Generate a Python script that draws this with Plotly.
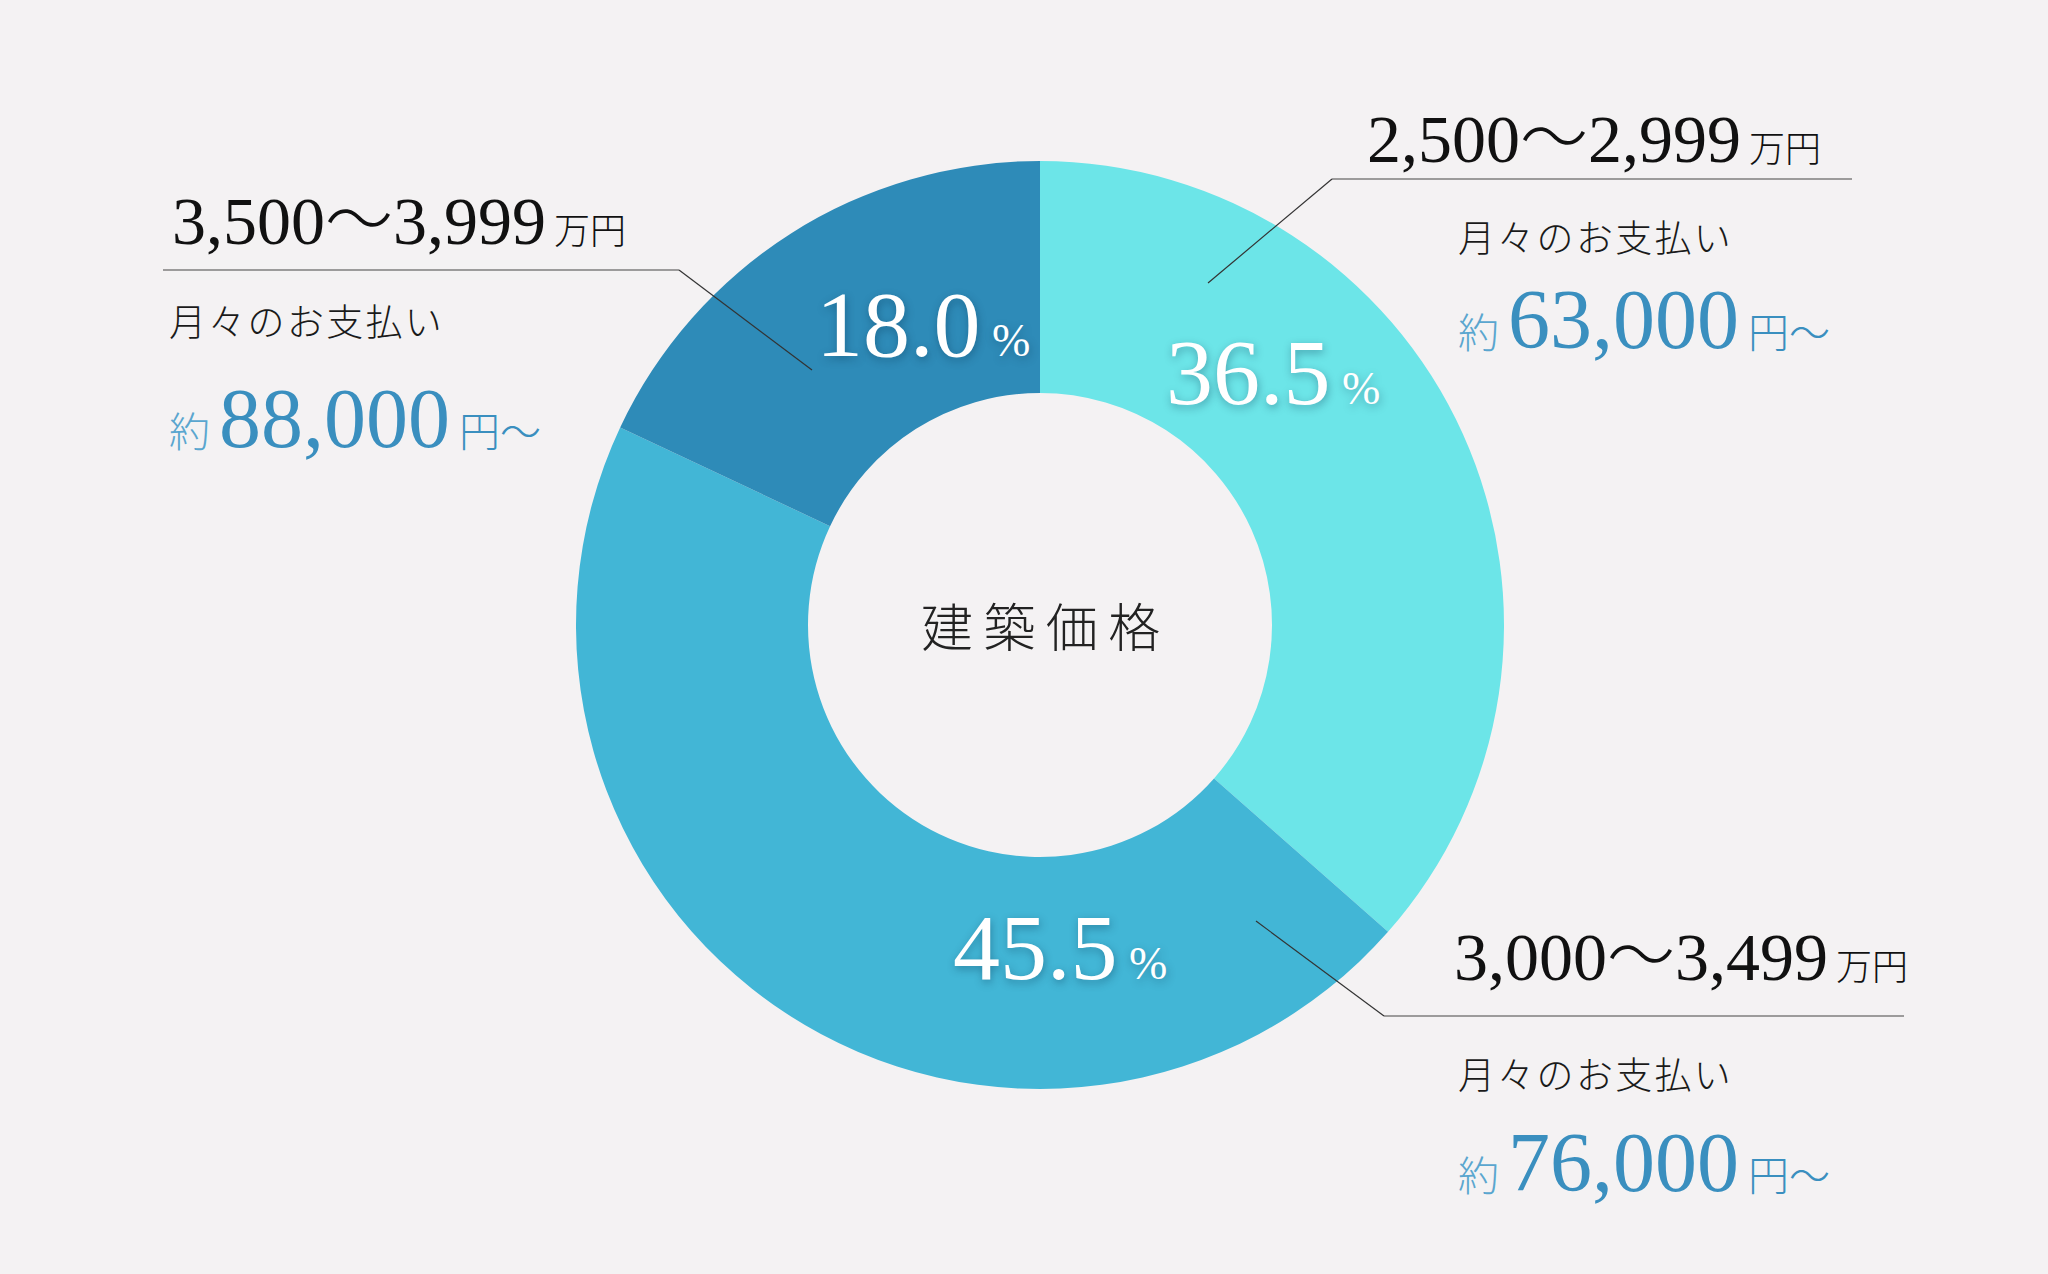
import plotly.graph_objects as go

W, H = 2048, 1274

# slices go clockwise from 12 o'clock
ranges = ["2,500～2,999", "3,000～3,499", "3,500～3,999"]
shares = [36.5, 45.5, 18.0]
monthly = ["63,000", "76,000", "88,000"]
colors = ["#6ce5e8", "#42b6d6", "#2e8bb8"]
center_label = "建築価格"
sub_label = "月々のお支払い"

SERIF = "Liberation Serif, Noto Sans CJK JP, serif"
JP = "Noto Sans CJK JP"
JP_SPAN = "font-family:Noto Sans CJK JP;font-weight:300"


def px(x):
    return x / W


def py(y):
    return 1 - y / H


def thin_tilde(s):
    a, b = s.split("～")
    return f"{a}<span style='{JP_SPAN}'>～</span>{b}"


cx, cy, r = 1040, 625, 464

fig = go.Figure(go.Pie(
    values=shares,
    labels=ranges,
    sort=False,
    direction="clockwise",
    rotation=0,
    hole=0.5,
    marker=dict(colors=colors, line=dict(width=0)),
    textinfo="none",
    hoverinfo="label+percent",
    domain=dict(x=[px(cx - r), px(cx + r)], y=[py(cy + r), py(cy - r)]),
))

annotations = []
shapes = []

# percentage labels on the ring
pct_pos = [(1273, 372), (1060, 947), (923, 324)]
for v, (x, y) in zip(shares, pct_pos):
    annotations.append(dict(
        x=px(x), y=py(y), xref="paper", yref="paper",
        xanchor="center", yanchor="middle", showarrow=False,
        text=f"{v:.1f}<span style='font-size:46px'> %</span>",
        font=dict(family=SERIF, size=94, color="white",
                  shadow="1px 3px 8px rgba(0,40,70,0.35)"),
    ))

# callout blocks
blocks = [
    dict(rx=1365, ry=133, ly=179, lx0=1332, lx1=1852, lead=(1332, 179, 1208, 283),
         tx=1456, sy=236, my=319),
    dict(rx=1452, ry=950, ly=1016, lx0=1384, lx1=1904, lead=(1256, 921, 1384, 1016),
         tx=1456, sy=1073, my=1162),
    dict(rx=170, ry=214, ly=270, lx0=163, lx1=679, lead=(679, 270, 812, 370),
         tx=167, sy=320, my=418),
]

for rng, pay, b in zip(ranges, monthly, blocks):
    annotations.append(dict(
        x=px(b["rx"]), y=py(b["ry"]), xref="paper", yref="paper",
        xanchor="left", yanchor="middle", showarrow=False,
        text=f"{thin_tilde(rng)}<span style='font-size:36px;{JP_SPAN}'> 万円</span>",
        font=dict(family=SERIF, size=68, color="#111111"),
    ))
    annotations.append(dict(
        x=px(b["tx"]), y=py(b["sy"]), xref="paper", yref="paper",
        xanchor="left", yanchor="middle", showarrow=False,
        text="\u200a".join(sub_label),
        font=dict(family=JP, size=37, color="#1a1a1a", weight=300),
    ))
    annotations.append(dict(
        x=px(b["tx"]), y=py(b["my"]), xref="paper", yref="paper",
        xanchor="left", yanchor="middle", showarrow=False,
        text=(f"<span style='font-size:41px;{JP_SPAN};color:#5aa6cf'>約 </span>"
              f"{pay}"
              f"<span style='font-size:41px;{JP_SPAN}'> 円～</span>"),
        font=dict(family=SERIF, size=84, color="#3a8fbf"),
    ))
    shapes.append(dict(type="line", xref="paper", yref="paper",
                       x0=px(b["lx0"]), x1=px(b["lx1"]), y0=py(b["ly"]), y1=py(b["ly"]),
                       line=dict(color="#444444", width=1.2)))
    x0, y0, x1, y1 = b["lead"]
    shapes.append(dict(type="line", xref="paper", yref="paper",
                       x0=px(x0), x1=px(x1), y0=py(y0), y1=py(y1),
                       line=dict(color="#333333", width=1.2)))

annotations.append(dict(
    x=px(cx), y=py(cy), xref="paper", yref="paper",
    xanchor="center", yanchor="middle", showarrow=False,
    text="\u2009".join(center_label),
    font=dict(family=JP, size=52, color="#222222", weight=300),
))

fig.update_layout(
    width=W, height=H,
    margin=dict(l=0, r=0, t=0, b=0),
    paper_bgcolor="#f4f2f3",
    plot_bgcolor="#f4f2f3",
    showlegend=False,
    annotations=annotations,
    shapes=shapes,
)

fig.write_html(
    "out.html",
    config={"displayModeBar": False},
    post_script="document.body.style.margin='0';document.body.style.background='#f4f2f3';",
)
